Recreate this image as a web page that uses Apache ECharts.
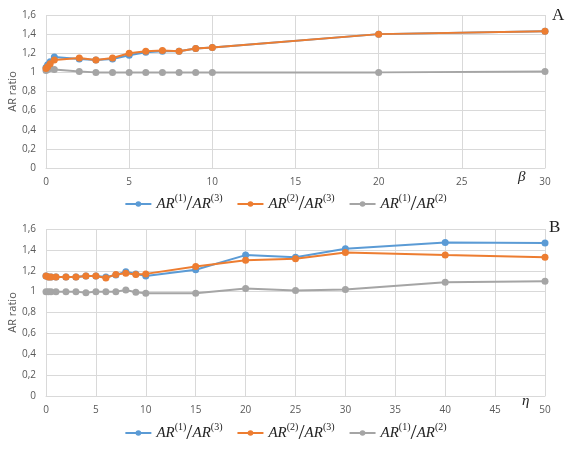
<!DOCTYPE html>
<html><head><meta charset="utf-8">
<script src="https://cdn.jsdelivr.net/npm/echarts@6/dist/echarts.min.js"></script>
<style>html,body{margin:0;padding:0;background:#fff}#c{width:571px;height:452px}</style>
</head><body><div id="c"></div>
<script>
// Chart A (beta)
var betaX = [0, 0.1, 0.25, 0.5, 2, 3, 4, 5, 6, 7, 8, 9, 10, 20, 30];
var a13 = [1.05, 1.08, 1.11, 1.16, 1.14, 1.13, 1.14, 1.18, 1.21, 1.22, 1.22, 1.25, 1.26, 1.40, 1.43];
var a23 = [1.04, 1.06, 1.09, 1.13, 1.15, 1.13, 1.15, 1.20, 1.22, 1.23, 1.22, 1.25, 1.26, 1.40, 1.43];
var a12 = [1.02, 1.03, 1.04, 1.03, 1.01, 1.00, 1.00, 1.00, 1.00, 1.00, 1.00, 1.00, 1.00, 1.00, 1.01];
// Chart B (eta)
var etaX = [0, 0.25, 0.5, 1, 2, 3, 4, 5, 6, 7, 8, 9, 10, 15, 20, 25, 30, 40, 50];
var b13 = [1.15, 1.14, 1.14, 1.14, 1.14, 1.14, 1.15, 1.15, 1.14, 1.16, 1.19, 1.17, 1.15, 1.21, 1.35, 1.33, 1.41, 1.47, 1.465];
var b23 = [1.15, 1.14, 1.14, 1.14, 1.14, 1.14, 1.15, 1.15, 1.13, 1.165, 1.175, 1.165, 1.17, 1.24, 1.30, 1.315, 1.375, 1.35, 1.33];
var b12 = [1.00, 1.00, 1.00, 1.00, 1.00, 1.00, 0.99, 1.00, 1.00, 1.00, 1.015, 0.995, 0.985, 0.985, 1.03, 1.01, 1.02, 1.09, 1.10];
var yTicks = [0, 0.2, 0.4, 0.6, 0.8, 1, 1.2, 1.4, 1.6];
var seriesNames = ['r13', 'r23', 'r12'];
var legendText = {
  r13: '{i|AR}{s|(1)}{sl|/}{i|AR}{s|(3)}',
  r23: '{i|AR}{s|(2)}{sl|/}{i|AR}{s|(3)}',
  r12: '{i|AR}{s|(1)}{sl|/}{i|AR}{s|(2)}'
};
var colors = {r13: '#5B9BD5', r23: '#ED7D31', r12: '#A5A5A5'};

function pairs(xs, ys) { return xs.map(function (x, i) { return [x, ys[i]]; }); }
function fmt(v) { return String(+v.toFixed(1)).replace('.', ','); }

var tickFont = {color: '#595959', fontSize: 10, fontFamily: 'Open Sans'};
var gridLine = {show: true, lineStyle: {color: '#D9D9D9', width: 1}};

function xAx(idx, max) {
  return {gridIndex: idx, type: 'value', min: 0, max: max, interval: 5,
    axisLine: {show: true, lineStyle: {color: '#D9D9D9'}}, axisTick: {show: false},
    axisLabel: Object.assign({margin: 9}, tickFont), splitLine: gridLine};
}
function yAx(idx) {
  return {gridIndex: idx, type: 'value', min: 0, max: 1.6, interval: 0.2,
    name: 'AR ratio', nameLocation: 'middle', nameGap: 28, nameRotate: 90, nameMoveOverlap: false,
    nameTextStyle: {color: '#595959', fontSize: 11, fontFamily: 'Open Sans'},
    axisLine: {show: false}, axisTick: {show: false},
    axisLabel: Object.assign({margin: 10, formatter: fmt}, tickFont), splitLine: gridLine};
}
function mk(name, idx, xs, ys) {
  return {name: name, type: 'line', xAxisIndex: idx, yAxisIndex: idx, data: pairs(xs, ys),
    symbol: 'circle', symbolSize: 7, color: colors[name],
    lineStyle: {width: 2, color: colors[name]}, itemStyle: {color: colors[name]},
    animation: false, z: name === 'r23' ? 3 : 2};
}
var rich = {
  i: {fontFamily: 'Liberation Serif', fontStyle: 'italic', fontSize: 15, color: '#222'},
  s: {fontFamily: 'Liberation Serif', fontSize: 10, color: '#222', verticalAlign: 'top', padding: [0, 0, 8, 0]},
  sl: {fontFamily: 'Liberation Serif', fontSize: 22, color: '#222'}
};
function legend(top) {
  return {top: top, left: 'center', data: seriesNames, itemWidth: 26, itemHeight: 7, itemGap: 14,
    formatter: function (n) { return legendText[n]; },
    textStyle: {rich: rich}, selectedMode: false};
}

var chart = echarts.init(document.getElementById('c'), null, {renderer: 'canvas'});
chart.setOption({
  animation: false,
  grid: [
    {left: 46, right: 26, top: 15, height: 153, containLabel: false, outerBoundsMode: 'none'},
    {left: 46, right: 26, top: 229, height: 167, containLabel: false, outerBoundsMode: 'none'}
  ],
  xAxis: [xAx(0, 30), xAx(1, 50)],
  yAxis: [yAx(0), yAx(1)],
  legend: [legend(188), legend(417)],
  series: [
    mk('r13', 0, betaX, a13), mk('r23', 0, betaX, a23), mk('r12', 0, betaX, a12),
    mk('r13', 1, etaX, b13), mk('r23', 1, etaX, b23), mk('r12', 1, etaX, b12)
  ],
  graphic: [
    {type: 'text', left: 518, top: 170, style: {text: 'β', font: 'italic 15px "Liberation Serif"', fill: '#222'}},
    {type: 'text', left: 522, top: 394, style: {text: 'η', font: 'italic 15px "Liberation Serif"', fill: '#222'}},
    {type: 'text', left: 552, top: 7, style: {text: 'A', font: '17px "Liberation Serif"', fill: '#222'}},
    {type: 'text', left: 549, top: 219, style: {text: 'B', font: '17px "Liberation Serif"', fill: '#222'}}
  ]
});
</script></body></html>
